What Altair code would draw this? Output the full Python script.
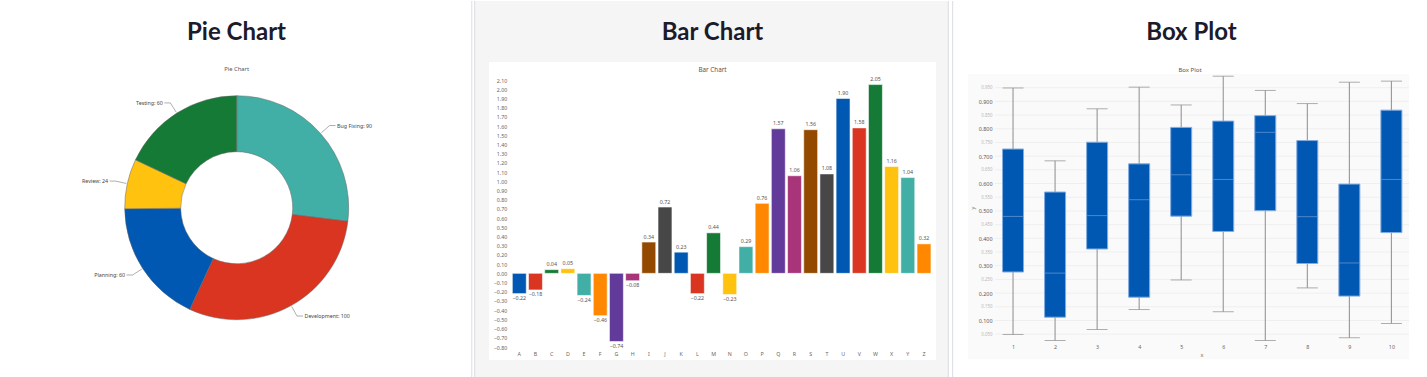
import altair as alt
import pandas as pd

# ---------------- data ----------------
pie_tasks = ["Bug Fixing", "Development", "Planning", "Review", "Testing"]
pie_values = [90, 100, 60, 24, 60]
pie_colors = ["#41afa6", "#da3521", "#0058b2", "#ffc20e", "#157a35"]

bar_cats = list("ABCDEFGHIJKLMNOPQRSTUVWXYZ")
bar_values = [-0.22, -0.18, 0.04, 0.05, -0.24, -0.46, -0.74, -0.08, 0.34, 0.72,
              0.23, -0.22, 0.44, -0.23, 0.29, 0.76, 1.57, 1.06, 1.56, 1.08,
              1.90, 1.58, 2.05, 1.16, 1.04, 0.32]
bar_palette = ["#0058b2", "#da3521", "#157a35", "#ffc20e", "#41afa6",
               "#ff8800", "#623a9a", "#a8357a", "#934a00", "#474747"]
bar_ticks = [-0.80, -0.70, -0.60, -0.50, -0.40, -0.30, -0.20, -0.10, 0.00,
             0.10, 0.20, 0.30, 0.40, 0.50, 0.60, 0.70, 0.80, 0.90, 1.00,
             1.10, 1.20, 1.30, 1.40, 1.50, 1.60, 1.70, 1.80, 1.90, 2.00, 2.10]

box_x = [1, 2, 3, 4, 5, 6, 7, 8, 9, 10]
box_lo = [0.049, 0.027, 0.067, 0.140, 0.248, 0.132, 0.027, 0.219, 0.037, 0.089]
box_q1 = [0.277, 0.112, 0.361, 0.185, 0.481, 0.425, 0.501, 0.308, 0.189, 0.421]
box_med = [0.480, 0.273, 0.483, 0.541, 0.632, 0.615, 0.787, 0.479, 0.310, 0.615]
box_q3 = [0.726, 0.569, 0.751, 0.672, 0.805, 0.828, 0.848, 0.757, 0.598, 0.868]
box_hi = [0.949, 0.683, 0.873, 0.952, 0.887, 0.992, 0.940, 0.892, 0.970, 0.974]
box_ticks = [0.05, 0.10, 0.15, 0.20, 0.25, 0.30, 0.35, 0.40, 0.45, 0.50,
             0.55, 0.60, 0.65, 0.70, 0.75, 0.80, 0.85, 0.90, 0.95]

titles = ["Pie Chart", "Bar Chart", "Box Plot"]

# ---------------- styles ----------------
H = 377
W1, W2, W3 = 472, 479, 476
FONT = "Noto Sans"
TITLE_FONT = "Lato"
TITLE_COLOR = "#1d1b2b"
BORDER = "#d9dce1"
one = pd.DataFrame({"k": [0]})


def rect(x1, x2, y1, y2, fill):
    return alt.Chart(one).mark_rect(fill=fill, strokeWidth=0).encode(
        x=alt.value(x1), x2=alt.value(x2), y=alt.value(y1), y2=alt.value(y2))


def vline(x, color=BORDER):
    return alt.Chart(one).mark_rule(color=color, strokeWidth=1).encode(
        x=alt.value(x), y=alt.value(0), y2=alt.value(H))


def text_at(t, x, y, size, color, weight="normal", font=FONT, baseline="alphabetic"):
    return alt.Chart(pd.DataFrame({"t": [t]})).mark_text(
        fontSize=size, color=color, fontWeight=weight, font=font,
        align="center", baseline=baseline).encode(
        text="t:N", x=alt.value(x), y=alt.value(y))


# ---------------- pie panel ----------------
CX, CY, RO, RI = 236.7, 206.7, 112, 56
R1, R2 = 113, 124
pie_df = pd.DataFrame({"task": pie_tasks, "value": pie_values})

arcs = alt.Chart(pie_df).mark_arc(
    outerRadius=RO, innerRadius=RI, stroke="#666666", strokeWidth=0.5).encode(
    theta=alt.Theta("value:Q", stack=True),
    order=alt.Order("task:N", sort="ascending"),
    color=alt.Color("task:N", scale=alt.Scale(domain=pie_tasks, range=pie_colors), legend=None),
    x=alt.value(CX), y=alt.value(CY))

lab = alt.Chart(pie_df).transform_joinaggregate(
    total="sum(value)"
).transform_window(
    cum="sum(value)", sort=[alt.SortField("task", order="ascending")], frame=[None, 0]
).transform_calculate(
    mid="(datum.cum - datum.value / 2) / datum.total * 2 * PI"
).transform_calculate(
    sgn="sin(datum.mid) >= 0 ? 1 : -1",
    xa=f"{CX} + {R1} * sin(datum.mid)",
    ya=f"{CY} - {R1} * cos(datum.mid)",
    xb=f"{CX} + {R2} * sin(datum.mid)",
    yb=f"{CY} - {R2} * cos(datum.mid)",
).transform_calculate(
    xc="datum.xb + datum.sgn * 6",
).transform_calculate(
    xt="datum.xc + datum.sgn * 1.5",
    label="datum.task + ': ' + datum.value",
)
pxs = alt.Scale(domain=[0, W1], range=[0, W1], nice=False, zero=False)
pys = alt.Scale(domain=[0, H], range=[0, H], nice=False, zero=False)
seg1 = lab.mark_rule(color="#777777", strokeWidth=0.6).encode(
    x=alt.X("xa:Q", scale=pxs, axis=None), y=alt.Y("ya:Q", scale=pys, axis=None),
    x2="xb:Q", y2="yb:Q")
seg2 = lab.mark_rule(color="#777777", strokeWidth=0.6).encode(
    x=alt.X("xb:Q", scale=pxs, axis=None), y=alt.Y("yb:Q", scale=pys, axis=None),
    x2="xc:Q", y2="yb:Q")
txt_r = lab.transform_filter("datum.sgn > 0").mark_text(
    align="left", baseline="middle", fontSize=5.3, color="#444444", font=FONT).encode(
    x=alt.X("xt:Q", scale=pxs, axis=None), y=alt.Y("yb:Q", scale=pys, axis=None), text="label:N")
txt_l = lab.transform_filter("datum.sgn < 0").mark_text(
    align="right", baseline="middle", fontSize=5.3, color="#444444", font=FONT).encode(
    x=alt.X("xt:Q", scale=pxs, axis=None), y=alt.Y("yb:Q", scale=pys, axis=None), text="label:N")

pie_panel = alt.layer(
    rect(0, 472, 0, H, "#ffffff"),
    vline(471.8),
    text_at(titles[0], 236.5, 39, 24, TITLE_COLOR, "bold", TITLE_FONT),
    text_at(titles[0], 236.7, 70, 5.8, "#555555"),
    arcs, seg1, seg2, txt_r, txt_l,
).properties(width=W1, height=H)

# ---------------- bar panel ----------------
bar_df = pd.DataFrame({"cat": bar_cats, "value": bar_values,
                       "color": [bar_palette[i % len(bar_palette)] for i in range(len(bar_cats))]})
bxs = alt.Scale(domain=bar_cats, range=[39.2, 460.1], paddingInner=0.14, paddingOuter=0.07)
bys = alt.Scale(domain=[-0.8, 2.1], range=[346, 79], nice=False, zero=False)
bax = alt.Axis(title=None, orient="bottom", offset=-31, labels=False, domain=False, ticks=False,
               grid=False, zindex=2)
bay = alt.Axis(title=None, orient="left", values=bar_ticks, format=".2f", offset=-37.7, domain=False,
               ticks=False, grid=False, labelPadding=3, labelFontSize=5.3, labelColor="#666666",
               labelOverlap=False, labelFont=FONT, zindex=2)

bars = alt.Chart(bar_df).mark_bar(stroke="#ffffff", strokeWidth=1, strokeOpacity=0.55).encode(
    x=alt.X("cat:N", scale=bxs, axis=bax),
    y=alt.Y("value:Q", scale=bys, axis=bay),
    y2=alt.datum(0),
    color=alt.Color("color:N", scale=None))
pos_lab = alt.Chart(bar_df).transform_filter("datum.value >= 0").mark_text(
    baseline="bottom", dy=-2.5, fontSize=5.3, color="#555555", font=FONT).encode(
    x=alt.X("cat:N", scale=bxs, axis=bax), y=alt.Y("value:Q", scale=bys, axis=bay),
    text=alt.Text("value:Q", format=".2f"))
neg_lab = alt.Chart(bar_df).transform_filter("datum.value < 0").mark_text(
    baseline="top", dy=2.5, fontSize=5.3, color="#555555", font=FONT).encode(
    x=alt.X("cat:N", scale=bxs, axis=bax), y=alt.Y("value:Q", scale=bys, axis=bay),
    text=alt.Text("value:Q", format=".2f"))
cat_lab = alt.Chart(bar_df).mark_text(
    baseline="middle", fontSize=5.3, color="#666666", font=FONT).encode(
    x=alt.X("cat:N", scale=bxs, axis=bax), y=alt.value(352.7), text="cat:N")

bar_panel = alt.layer(
    bars,
    rect(2.7, 476.3, 0, H, "#f5f5f5"),
    vline(2.7), vline(476.3),
    rect(17, 464, 61, 359, "#ffffff"),
    text_at(titles[1], 240.5, 39, 24, TITLE_COLOR, "bold", TITLE_FONT),
    text_at(titles[1], 240.5, 71, 6.3, "#555555"),
    bars, pos_lab, neg_lab, cat_lab,
).properties(width=W2, height=H)

# ---------------- box panel ----------------
box_df = pd.DataFrame({"x": box_x, "lo": box_lo, "q1": box_q1, "med": box_med,
                       "q3": box_q3, "hi": box_hi})
grid_df = pd.DataFrame({"v": box_ticks})
xxs = alt.Scale(domain=[0.69, 10.3], range=[44, 458], nice=False, zero=False)
yys = alt.Scale(domain=[0.02, 1.0], range=[341.4, 73], nice=False, zero=False)
major = "abs(datum.value * 10 - round(datum.value * 10)) < 0.001"
xax = alt.Axis(title=None, orient="bottom", values=box_x, format="d", offset=-35.6, domain=False,
               ticks=False, grid=False, labelPadding=2.5, labelFontSize=5.3, labelColor="#666666",
               labelFont=FONT, labelFlush=False, zindex=2)
yax = alt.Axis(title=None, orient="left", values=box_ticks, format=".3f", offset=-44, domain=False,
               ticks=False, grid=False, labelPadding=3, labelOverlap=False, labelFont=FONT, zindex=2,
               labelFontSize={"condition": {"test": major, "value": 5.4}, "value": 4.4},
               labelColor={"condition": {"test": major, "value": "#555555"}, "value": "#b8b8b8"})

grid = alt.Chart(grid_df).mark_rule(color="#efefef", strokeWidth=1).encode(
    y=alt.Y("v:Q", scale=yys, axis=yax), x=alt.value(44), x2=alt.value(458))
whisk = alt.Chart(box_df).mark_rule(color="#8c8c8c", strokeWidth=1).encode(
    x=alt.X("x:Q", scale=xxs, axis=xax), y=alt.Y("lo:Q", scale=yys, axis=yax), y2="hi:Q")
cap_lo = alt.Chart(box_df).mark_tick(orient="horizontal", size=21, thickness=1, color="#8c8c8c").encode(
    x=alt.X("x:Q", scale=xxs, axis=xax), y=alt.Y("lo:Q", scale=yys, axis=yax))
cap_hi = alt.Chart(box_df).mark_tick(orient="horizontal", size=21, thickness=1, color="#8c8c8c").encode(
    x=alt.X("x:Q", scale=xxs, axis=xax), y=alt.Y("hi:Q", scale=yys, axis=yax))
boxes = alt.Chart(box_df).mark_bar(size=21, color="#0058b2", stroke="#82ace0", strokeWidth=1).encode(
    x=alt.X("x:Q", scale=xxs, axis=xax), y=alt.Y("q1:Q", scale=yys, axis=yax), y2="q3:Q")
meds = alt.Chart(box_df).mark_tick(orient="horizontal", size=20, thickness=1, color="#6c9cd8").encode(
    x=alt.X("x:Q", scale=xxs, axis=xax), y=alt.Y("med:Q", scale=yys, axis=yax))

y_title = alt.Chart(pd.DataFrame({"t": ["y"]})).mark_text(
    fontSize=5.5, color="#666666", font=FONT, angle=270, align="center", baseline="middle").encode(
    text="t:N", x=alt.value(22), y=alt.value(207))

box_panel = alt.layer(
    grid,
    rect(0, W3, 0, H, "#ffffff"),
    vline(1.7),
    rect(17, 458, 73, 358, "#fafafa"),
    grid, whisk, cap_lo, cap_hi, boxes, meds,
    text_at(titles[2], 240.5, 39, 24, TITLE_COLOR, "bold", TITLE_FONT),
    text_at(titles[2], 239, 71, 6, "#555555"),
    text_at("x", 251, 356, 5.5, "#666666"),
    y_title,
).properties(width=W3, height=H)

chart = alt.hconcat(pie_panel, bar_panel, box_panel, spacing=0, bounds="flush").properties(
    padding=0, background="#ffffff"
).configure_view(stroke=None).configure_concat(spacing=0)

chart.save("out.html", embed_options={"renderer": "svg", "actions": False})
